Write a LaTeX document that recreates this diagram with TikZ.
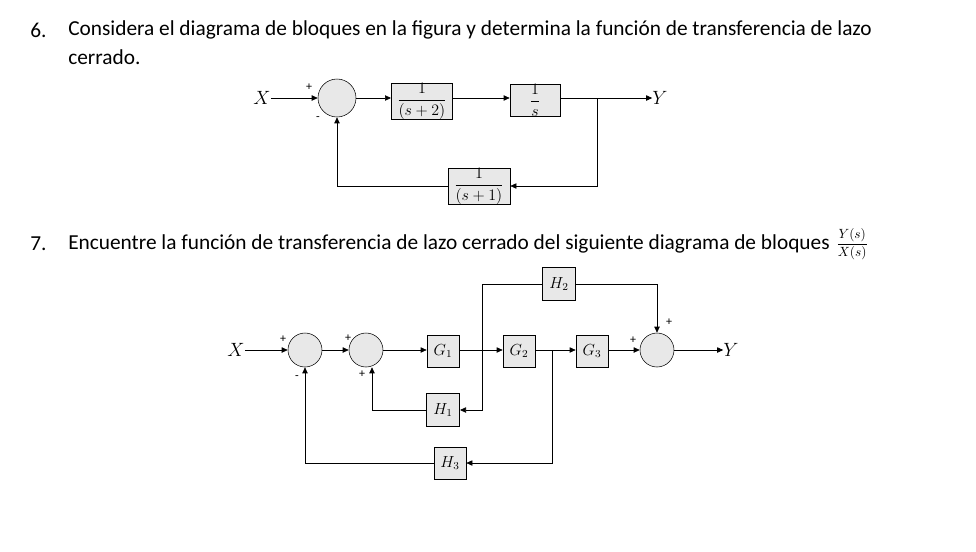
\documentclass[tikz,border=0pt]{standalone}
\usepackage{fontspec}
\setmainfont{Carlito}
\usetikzlibrary{arrows.meta,calc}
\begin{document}
\begin{tikzpicture}[x=0.75pt,y=-0.75pt,
  blk/.style={draw,fill=gray!18,inner sep=0pt,line width=0.5pt,font=\large},
  sumc/.style={draw,fill=gray!18,circle,minimum size=#1,inner sep=0pt},
  ln/.style={line width=0.5pt},
  ar/.style={ln,-{Triangle[length=4.5pt,width=4pt]}},
  sg/.style={font=\small,inner sep=0pt},
  lb/.style={inner sep=0pt,font=\Large},
  qt/.style={anchor=west,inner sep=0pt,font=\fontsize{16pt}{19pt}\selectfont}]
\useasboundingbox (0,0) rectangle (976,551);
% texts
\node[qt] (n6) at (30,30) {6.};
\node[qt] (t6) at (68,30) {Considera el diagrama de bloques en la figura y determina la función de transferencia de lazo};
\node[qt] (t6b) at (68,57) {cerrado.};
\node[qt] (n7) at (30,244) {7.};
\node[qt] (t7) at (68,244) {Encuentre la función de transferencia de lazo cerrado del siguiente diagrama de bloques};
\node[anchor=west,inner sep=0pt] (fr) at (836,244) {$\displaystyle\frac{Y(s)}{X(s)}$};
% diagram 1
\node[lb] (X1) at (262,98) {$X$};
\node[sumc=28.5pt] (s1) at (337,98) {};
\node[blk,minimum width=46pt,minimum height=25pt] (b1) at (422,101) {$\displaystyle\frac{1}{(s+2)}$};
\node[blk,minimum width=37.5pt,minimum height=22.5pt] (b2) at (535,100) {$\displaystyle\frac{1}{s}$};
\node[blk,minimum width=46.5pt,minimum height=27pt] (b3) at (479,186) {$\displaystyle\frac{1}{(s+1)}$};
\node[lb] (Y1) at (660,98) {$Y$};
\coordinate (br1) at (597,98);
\draw[ar] (X1.east) -- (s1.west);
\draw[ar] (s1.east) -- (b1.west|-s1);
\draw[ar] (b1.east|-s1) -- (b2.west|-s1);
\draw[ar] (b2.east|-s1) -- (Y1.west);
\draw[ar] (br1) |- (b3.east);
\draw[ar] (b3.west) -| (s1.south);
\node[sg] (p1) at (309,87) {+};
\node[sg] (m1) at (318,119) {-};
% diagram 2
\node[lb] (X2) at (236,350) {$X$};
\node[sumc=25.5pt] (c1) at (305,350) {};
\node[sumc=25.5pt] (c2) at (366,350) {};
\node[blk,minimum size=24pt] (g1) at (443,351) {$G_1$};
\node[blk,minimum size=24pt] (g2) at (519,351) {$G_2$};
\node[blk,minimum size=24pt] (g3) at (592,351) {$G_3$};
\node[sumc=25.5pt] (c3) at (657,350) {};
\node[lb] (Y2) at (731,350) {$Y$};
\node[blk,minimum size=25pt] (h2) at (559,284) {$H_2$};
\node[blk,minimum size=25pt] (h1) at (443,410) {$H_1$};
\node[blk,minimum size=24pt] (h3) at (450,463) {$H_3$};
\coordinate (br2) at (482,350);
\coordinate (br3) at (552,350);
\draw[ar] (X2.east) -- (c1.west);
\draw[ar] (c1.east) -- (c2.west);
\draw[ar] (c2.east) -- (g1.west|-c2);
\draw[ar] (g1.east|-c2) -- (g2.west|-c2);
\draw[ar] (g2.east|-c2) -- (g3.west|-c2);
\draw[ar] (g3.east|-c2) -- (c3.west);
\draw[ar] (c3.east) -- (Y2.west);
\draw[ln] (br2) |- (h2.west);
\draw[ar] (h2.east) -| (c3.north);
\draw[ar] (br2) |- (h1.east);
\draw[ar] (h1.west) -| ($(c2.south)+(6,0)$);
\draw[ar] (br3) |- (h3.east);
\draw[ar] (h3.west) -| (c1.south);
\node[sg] at (283,339) {+};
\node[sg] at (297,378) {-};
\node[sg] at (348,338) {+};
\node[sg] at (362,374) {+};
\node[sg] at (669,322) {+};
\node[sg] at (633,340) {+};
\end{tikzpicture}
\end{document}
